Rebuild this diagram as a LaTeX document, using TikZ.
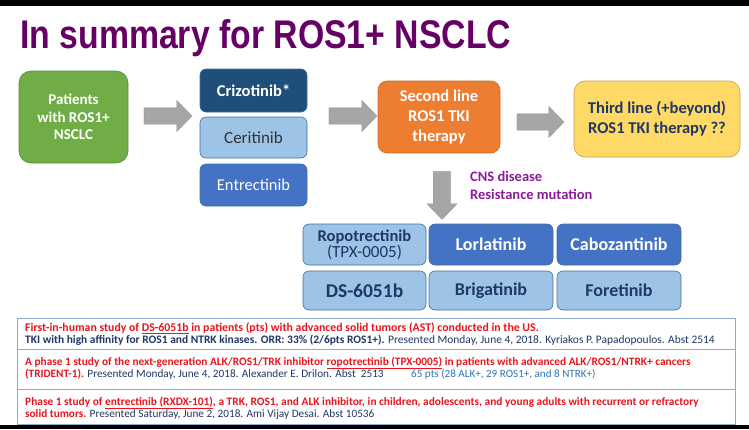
\documentclass[tikz,border=0pt]{standalone}
\usepackage{fontspec}
\setmainfont{Carlito}
\newfontfamily\titlefont{Liberation Sans}
\usetikzlibrary{shapes.arrows}
\definecolor{titlepurple}{HTML}{660066}
\definecolor{patgreen}{HTML}{70AD47}
\definecolor{navybox}{HTML}{1F4E79}
\definecolor{lightblue}{HTML}{9DC3E6}
\definecolor{midblue}{HTML}{4472C4}
\definecolor{orangebox}{HTML}{ED7D31}
\definecolor{yellowbox}{HTML}{FFD966}
\definecolor{arrowgray}{HTML}{A6A6A6}
\definecolor{navytext}{HTML}{1F3864}
\definecolor{redtext}{HTML}{E8161E}
\definecolor{bluetext}{HTML}{2E75B6}
\definecolor{panelborder}{HTML}{8FA9CF}
\definecolor{notepurple}{HTML}{8B1C9C}
\definecolor{boxedge}{HTML}{41719C}
\tikzset{
  box/.style={rectangle, rounded corners=6pt, draw=boxedge, line width=0.6pt, inner sep=1pt, align=center},
  lbox/.style={box, fill=lightblue, text=navytext},
  mbox/.style={box, fill=midblue, text=white},
  blockarrow/.style={single arrow, fill=arrowgray, draw=arrowgray!85!black, line width=0.3pt, inner sep=8pt,
    single arrow head extend=7.5pt, single arrow tip angle=92, minimum height=48pt},
  panelrow/.style={rectangle, draw=panelborder, line width=0.8pt, inner sep=0pt},
  note/.style={anchor=base west, inner sep=0pt}
}
\begin{document}
\begin{tikzpicture}[x=1pt,y=-1pt]
\useasboundingbox (0,0) rectangle (749,429);
\fill[white] (0,0) rectangle (749,429);
\fill[black] (0,0) rectangle (749,6);
\fill[black] (0,425) rectangle (749,429);

% title
\node[anchor=base west, inner sep=0pt, text=titlepurple, font=\titlefont\bfseries\fontsize{40}{44}\selectfont, xscale=0.845] (title) at (20,48) {In summary for ROS1+ NSCLC};

% first row of boxes
\node[box, fill=patgreen, draw=patgreen!80!black, rounded corners=12pt, minimum width=109pt, minimum height=92pt, text=white,
  font=\bfseries\fontsize{15}{17.5}\selectfont] (pat) at (73.5,117) {Patients\\with ROS1+\\NSCLC};
\node[box, fill=navybox, text=white, minimum width=107pt, minimum height=43pt, font=\bfseries\fontsize{16.5}{19}\selectfont] (criz) at (253.5,90.5) {Crizotinib*};
\node[lbox, minimum width=107pt, minimum height=41pt, text=black!80, font=\fontsize{17}{19}\selectfont] (ceri) at (253.5,137.5) {Ceritinib};
\node[mbox, minimum width=107pt, minimum height=42pt, font=\fontsize{16.5}{19}\selectfont] (entr) at (253.5,185) {Entrectinib};
\node[box, fill=orangebox, draw=orangebox!85!black, rounded corners=9pt, text=white, minimum width=122pt, minimum height=72pt,
  font=\bfseries\fontsize{16.5}{20}\selectfont] (second) at (439,117) {Second line\\ROS1 TKI\\therapy};
\node[box, fill=yellowbox, draw=yellowbox!75!black, rounded corners=11pt, text=navytext, minimum width=166pt, minimum height=76pt,
  font=\bfseries\fontsize{16.5}{20}\selectfont] (third) at (657,119) {Third line (+beyond)\\ROS1 TKI therapy ??};

% block arrows
\node[blockarrow] (a1) at (164,116) {};
\node[blockarrow] (a2) at (349,116) {};
\node[blockarrow, minimum height=47pt] (a3) at (536.5,122) {};
\node[blockarrow, shape border rotate=270, inner sep=8.5pt, single arrow head extend=6.5pt, single arrow tip angle=88] (a4) at (442,191) {};

\node[anchor=base west, inner sep=0pt, text=notepurple, align=left, font=\bfseries\fontsize{14.5}{18}\selectfont] (why) at (470,199.5) {CNS disease\\Resistance mutation};

% grid of later drugs
\node[lbox, minimum width=123pt, minimum height=41pt, font=\fontsize{16.5}{16}\selectfont] (ropo) at (364.5,244.5) {\textbf{Ropotrectinib}\\{\fontsize{17}{16}\selectfont(TPX-0005)}};
\node[mbox, minimum width=124pt, minimum height=41pt, font=\bfseries\fontsize{18}{20}\selectfont] (lorl) at (491,244.5) {Lorlatinib};
\node[mbox, minimum width=124pt, minimum height=41pt, font=\bfseries\fontsize{18}{20}\selectfont] (cabo) at (619,244.5) {Cabozantinib};
\node[lbox, minimum width=123pt, minimum height=39pt, font=\bfseries\fontsize{19.5}{20}\selectfont] (ds) at (364.5,290.5) {DS-6051b};
\node[lbox, minimum width=124pt, minimum height=39pt, font=\bfseries\fontsize{18}{20}\selectfont] (brig) at (491,290.5) {Brigatinib};
\node[lbox, minimum width=124pt, minimum height=39pt, font=\bfseries\fontsize{18}{20}\selectfont] (fore) at (619,290.5) {Foretinib};

% bottom panel
\node[panelrow, minimum width=718pt, minimum height=31pt] (r1) at (376,333.5) {};
\node[panelrow, minimum width=718pt, minimum height=40pt] (r2) at (376,369) {};
\node[panelrow, minimum width=718pt, minimum height=35pt] (r3) at (376,406.5) {};

\node[note, text=redtext, font=\bfseries\fontsize{11.8}{12}\selectfont] (n11) at (25,331.5)
  {First-in-human study of \underline{DS-6051b} in patients (pts) with advanced solid tumors (AST) conducted in the US.};
\node[note, text=navytext, font=\fontsize{11.45}{12}\selectfont] (n12) at (25,343.5)
  {\textbf{TKI with high affinity for ROS1 and NTRK kinases. ORR: 33\% (2/6pts ROS1+).} Presented Monday, June 4, 2018. Kyriakos P. Papadopoulos. Abst 2514};
\node[note, text=redtext, font=\bfseries\fontsize{11.35}{12}\selectfont] (n21) at (25,365.5)
  {A phase 1 study of the next-generation ALK/ROS1/TRK inhibitor \underline{ropotrectinib (TPX-0005)} in patients with advanced ALK/ROS1/NTRK+ cancers};
\node[note, text=navytext, font=\fontsize{11.25}{12}\selectfont] (n22) at (25,377.5)
  {\textcolor{redtext}{\textbf{(TRIDENT-1).}} Presented Monday, June 4, 2018. Alexander E. Drilon. Abst\ \ 2513};
\node[note, text=bluetext, font=\fontsize{11.1}{12}\selectfont] (n23) at (411,377.5) {65 pts (28 ALK+, 29 ROS1+, and 8 NTRK+)};
\node[note, text=redtext, font=\bfseries\fontsize{11.4}{12}\selectfont] (n31) at (25,405.5)
  {Phase 1 study of \underline{entrectinib (RXDX-101)}, a TRK, ROS1, and ALK inhibitor, in children, adolescents, and young adults with recurrent or refractory};
\node[note, text=navytext, font=\fontsize{11.25}{12}\selectfont] (n32) at (25,417.5)
  {\textcolor{redtext}{\textbf{solid tumors.}} Presented Saturday, June 2, 2018. Ami Vijay Desai. Abst 10536};
\end{tikzpicture}
\end{document}
